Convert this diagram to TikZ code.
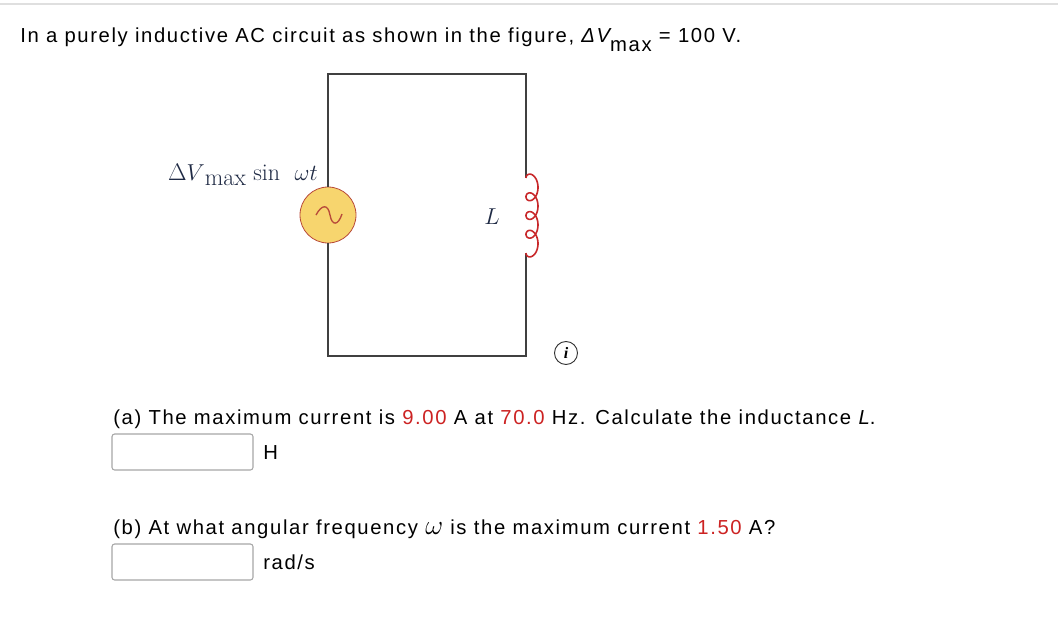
\documentclass[tikz,border=0pt]{standalone}
\usepackage{fontspec}
\setmainfont{Liberation Sans}
\newfontfamily\serifit{Liberation Serif}
\newfontfamily\lmr{Latin Modern Roman}
\definecolor{ans}{HTML}{CC2222}
\definecolor{wire}{HTML}{404040}
\definecolor{lab}{HTML}{1F2A44}
\definecolor{srcfill}{HTML}{F7D56E}
\definecolor{srcedge}{HTML}{B84A3A}
\definecolor{coil}{HTML}{C8282A}
\begin{document}
\begin{tikzpicture}[x=0.75pt,y=-0.75pt,
  txt/.style={anchor=base west,inner sep=0pt,font=\fontsize{15.2}{18}\selectfont},
  ansbox/.style={draw=gray!70,line width=0.8pt,rounded corners=2pt},
  wirel/.style={draw=wire,line width=1.4pt}]
\useasboundingbox (0,0) rectangle (1058,621);
\draw[gray!25,line width=0.8pt] (0,4) -- (1058,4);
\node[txt,font=\fontsize{15.2}{18}\selectfont\addfontfeatures{LetterSpace=8}] (title) at (20,42) {In a purely inductive AC circuit as shown in the figure, {\itshape ΔV}\raisebox{-7pt}{max} = 100 V.};
% circuit
\coordinate (tl) at (328,74);
\coordinate (tr) at (526,74);
\coordinate (bl) at (328,356);
\coordinate (br) at (526,356);
\coordinate (ct) at (526,178);
\coordinate (cb) at (526,253);
\node[circle,draw=srcedge,fill=srcfill,minimum size=56*0.75pt,inner sep=0pt,line width=0.6pt] (src) at (328,215) {};
\draw[wirel] (src.north) -- (tl) -- (tr) -- (ct);
\draw[wirel] (cb) -- (br) -- (bl) -- (src.south);
\draw[coil,line width=1.2pt,smooth,samples=200,domain=0:25.13] plot ({526+6-6*cos(\x r)},{178+75*\x/25.13-8*sin(\x r)});
\draw[srcedge,line width=1pt] (316,215) .. controls (322,204) and (328,204) .. (330,215) .. controls (332,226) and (338,226) .. (342,214);
\node[anchor=center,text=lab,font=\fontsize{17}{18}\selectfont] (L) at (492,217) {$L$};
\node[anchor=base east,text=lab,inner sep=0pt,font=\fontsize{18}{20}\selectfont\lmr] (vlab) at (318,180) {Δ$V$\raisebox{-4pt}{max} sin \ $\omega t$};
\node[circle,draw=black!80,line width=0.7pt,minimum size=23*0.75pt,inner sep=0pt,font=\fontsize{12}{12}\selectfont\serifit\bfseries\itshape] (info) at (566,353) {i};
% part a
\node[txt,font=\fontsize{15.2}{18}\selectfont\addfontfeatures{LetterSpace=8}] (qa) at (113,424) {(a) The maximum current is \textcolor{ans}{9.00} A at \textcolor{ans}{70.0} Hz. Calculate the inductance \textit{L}.};
\draw[ansbox] (112,434) rectangle (253,470);
\node[txt,font=\fontsize{15.2}{18}\selectfont] (ua) at (263,459) {H};
% part b
\node[txt,font=\fontsize{15.2}{18}\selectfont\addfontfeatures{LetterSpace=8}] (qb) at (113,534) {(b) At what angular frequency {\fontsize{20}{20}\selectfont$\omega$} is the maximum current \textcolor{ans}{1.50} A?};
\draw[ansbox] (112,544) rectangle (253,580);
\node[txt,font=\fontsize{15.2}{18}\selectfont\addfontfeatures{LetterSpace=8}] (ub) at (263,569) {rad/s};
\end{tikzpicture}
\end{document}
